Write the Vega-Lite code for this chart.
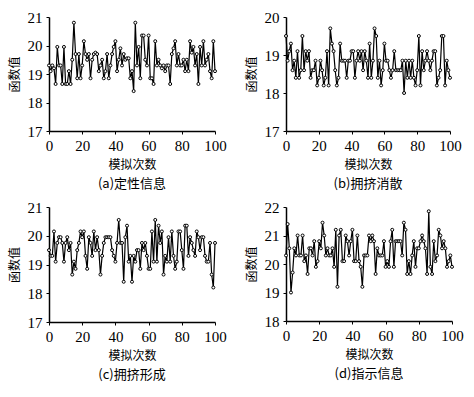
{
  "$schema": "https://vega.github.io/schema/vega-lite/v6.json",
  "padding": {"left": 8, "top": 10, "right": 5, "bottom": 5},
  "datasets": {
    "a": [
      {"x":0,"y":19.3},{"x":1,"y":19.1},{"x":2,"y":19.3},{"x":3,"y":19.2},{"x":4,"y":18.65},{"x":5,"y":19.95},{"x":6,"y":19.3},{"x":7,"y":19.3},{"x":8,"y":18.65},{"x":9,"y":19.95},
      {"x":10,"y":18.65},{"x":11,"y":18.65},{"x":12,"y":19.1},{"x":13,"y":18.65},{"x":14,"y":19.5},{"x":15,"y":20.8},{"x":16,"y":19.7},{"x":17,"y":18.85},{"x":18,"y":19.7},{"x":19,"y":18.85},
      {"x":20,"y":19.3},{"x":21,"y":20.15},{"x":22,"y":19.7},{"x":23,"y":19.5},{"x":24,"y":19.7},{"x":25,"y":18.85},{"x":26,"y":19.5},{"x":27,"y":19.7},{"x":28,"y":19.75},{"x":29,"y":19.7},
      {"x":30,"y":19.1},{"x":31,"y":19.3},{"x":32,"y":19.5},{"x":33,"y":18.85},{"x":34,"y":19.1},{"x":35,"y":19.7},{"x":36,"y":18.85},{"x":37,"y":19.3},{"x":38,"y":19.7},{"x":39,"y":19.95},
      {"x":40,"y":20.15},{"x":41,"y":19.1},{"x":42,"y":19.5},{"x":43,"y":19.9},{"x":44,"y":19.3},{"x":45,"y":19.7},{"x":46,"y":19.5},{"x":47,"y":19.55},{"x":48,"y":19.55},{"x":49,"y":18.85},
      {"x":50,"y":19.1},{"x":51,"y":18.4},{"x":52,"y":20.8},{"x":53,"y":19.3},{"x":54,"y":19.95},{"x":55,"y":18.85},{"x":56,"y":20.35},{"x":57,"y":20.35},{"x":58,"y":19.5},{"x":59,"y":19.3},
      {"x":60,"y":20.35},{"x":61,"y":18.85},{"x":62,"y":18.85},{"x":63,"y":18.65},{"x":64,"y":20.15},{"x":65,"y":19.3},{"x":66,"y":19.5},{"x":67,"y":19.3},{"x":68,"y":19.2},{"x":69,"y":19.3},
      {"x":70,"y":19.1},{"x":71,"y":19.3},{"x":72,"y":19.3},{"x":73,"y":18.65},{"x":74,"y":19.7},{"x":75,"y":19.9},{"x":76,"y":20.15},{"x":77,"y":19.3},{"x":78,"y":19.7},{"x":79,"y":19.3},
      {"x":80,"y":19.3},{"x":81,"y":19.5},{"x":82,"y":19.1},{"x":83,"y":19.5},{"x":84,"y":19.1},{"x":85,"y":20.15},{"x":86,"y":19.75},{"x":87,"y":19.95},{"x":88,"y":19.3},{"x":89,"y":19.7},
      {"x":90,"y":18.65},{"x":91,"y":19.95},{"x":92,"y":19.3},{"x":93,"y":20.15},{"x":94,"y":19.3},{"x":95,"y":19.5},{"x":96,"y":19.7},{"x":97,"y":19.1},{"x":98,"y":18.85},{"x":99,"y":20.15},
      {"x":100,"y":19.1}
    ],
    "b": [
      {"x":0,"y":19.5},{"x":1,"y":18.85},{"x":2,"y":19.1},{"x":3,"y":19.3},{"x":4,"y":18.6},{"x":5,"y":18.85},{"x":6,"y":18.4},{"x":7,"y":19.1},{"x":8,"y":18.4},{"x":9,"y":18.6},
      {"x":10,"y":19.5},{"x":11,"y":18.6},{"x":12,"y":19.1},{"x":13,"y":18.85},{"x":14,"y":19.1},{"x":15,"y":18.4},{"x":16,"y":18.6},{"x":17,"y":18.6},{"x":18,"y":18.85},{"x":19,"y":18.2},
      {"x":20,"y":18.4},{"x":21,"y":18.85},{"x":22,"y":18.6},{"x":23,"y":18.2},{"x":24,"y":18.4},{"x":25,"y":19.1},{"x":26,"y":18.2},{"x":27,"y":19.7},{"x":28,"y":19.3},{"x":29,"y":19.1},
      {"x":30,"y":18.6},{"x":31,"y":18.2},{"x":32,"y":18.4},{"x":33,"y":19.3},{"x":34,"y":18.85},{"x":35,"y":18.85},{"x":36,"y":18.85},{"x":37,"y":18.4},{"x":38,"y":18.85},{"x":39,"y":18.85},
      {"x":40,"y":19.1},{"x":41,"y":19.1},{"x":42,"y":18.4},{"x":43,"y":18.85},{"x":44,"y":19.1},{"x":45,"y":18.85},{"x":46,"y":19.1},{"x":47,"y":18.6},{"x":48,"y":19.1},{"x":49,"y":18.85},
      {"x":50,"y":18.4},{"x":51,"y":19.3},{"x":52,"y":18.4},{"x":53,"y":18.85},{"x":54,"y":19.7},{"x":55,"y":19.5},{"x":56,"y":18.4},{"x":57,"y":18.85},{"x":58,"y":18.2},{"x":59,"y":18.6},
      {"x":60,"y":19.3},{"x":61,"y":18.85},{"x":62,"y":18.85},{"x":63,"y":18.6},{"x":64,"y":18.4},{"x":65,"y":18.6},{"x":66,"y":19.1},{"x":67,"y":18.6},{"x":68,"y":18.6},{"x":69,"y":18.6},
      {"x":70,"y":18.6},{"x":71,"y":18.85},{"x":72,"y":18.0},{"x":73,"y":18.85},{"x":74,"y":18.4},{"x":75,"y":18.85},{"x":76,"y":18.4},{"x":77,"y":18.85},{"x":78,"y":18.4},{"x":79,"y":18.2},
      {"x":80,"y":18.6},{"x":81,"y":19.5},{"x":82,"y":18.2},{"x":83,"y":19.1},{"x":84,"y":18.6},{"x":85,"y":18.85},{"x":86,"y":19.1},{"x":87,"y":18.85},{"x":88,"y":18.6},{"x":89,"y":18.85},
      {"x":90,"y":19.1},{"x":91,"y":19.1},{"x":92,"y":18.2},{"x":93,"y":18.4},{"x":94,"y":18.6},{"x":95,"y":19.5},{"x":96,"y":19.5},{"x":97,"y":18.2},{"x":98,"y":18.85},{"x":99,"y":18.6},
      {"x":100,"y":18.4}
    ],
    "c": [
      {"x":0,"y":19.5},{"x":1,"y":19.3},{"x":2,"y":19.3},{"x":3,"y":20.15},{"x":4,"y":19.1},{"x":5,"y":19.75},{"x":6,"y":19.95},{"x":7,"y":19.95},{"x":8,"y":19.75},{"x":9,"y":19.1},
      {"x":10,"y":19.75},{"x":11,"y":19.95},{"x":12,"y":19.5},{"x":13,"y":19.75},{"x":14,"y":18.65},{"x":15,"y":19.1},{"x":16,"y":18.85},{"x":17,"y":19.5},{"x":18,"y":19.75},{"x":19,"y":20.15},
      {"x":20,"y":19.95},{"x":21,"y":20.15},{"x":22,"y":19.3},{"x":23,"y":18.85},{"x":24,"y":19.95},{"x":25,"y":19.75},{"x":26,"y":19.3},{"x":27,"y":20.15},{"x":28,"y":19.5},{"x":29,"y":19.95},
      {"x":30,"y":19.5},{"x":31,"y":18.65},{"x":32,"y":19.3},{"x":33,"y":19.75},{"x":34,"y":19.95},{"x":35,"y":19.95},{"x":36,"y":19.95},{"x":37,"y":19.95},{"x":38,"y":19.5},{"x":39,"y":19.3},
      {"x":40,"y":19.1},{"x":41,"y":19.75},{"x":42,"y":20.55},{"x":43,"y":19.75},{"x":44,"y":19.75},{"x":45,"y":18.4},{"x":46,"y":19.95},{"x":47,"y":20.35},{"x":48,"y":19.1},{"x":49,"y":19.3},
      {"x":50,"y":18.4},{"x":51,"y":19.3},{"x":52,"y":19.1},{"x":53,"y":19.5},{"x":54,"y":19.5},{"x":55,"y":18.85},{"x":56,"y":19.75},{"x":57,"y":19.5},{"x":58,"y":19.75},{"x":59,"y":19.3},
      {"x":60,"y":18.85},{"x":61,"y":18.85},{"x":62,"y":20.15},{"x":63,"y":19.1},{"x":64,"y":20.55},{"x":65,"y":19.1},{"x":66,"y":20.35},{"x":67,"y":19.75},{"x":68,"y":20.15},{"x":69,"y":18.65},
      {"x":70,"y":19.3},{"x":71,"y":19.1},{"x":72,"y":19.95},{"x":73,"y":19.1},{"x":74,"y":20.15},{"x":75,"y":19.3},{"x":76,"y":18.85},{"x":77,"y":19.1},{"x":78,"y":20.15},{"x":79,"y":20.15},
      {"x":80,"y":19.5},{"x":81,"y":18.85},{"x":82,"y":20.35},{"x":83,"y":20.35},{"x":84,"y":19.3},{"x":85,"y":19.95},{"x":86,"y":19.75},{"x":87,"y":19.5},{"x":88,"y":19.3},{"x":89,"y":20.15},
      {"x":90,"y":19.95},{"x":91,"y":19.5},{"x":92,"y":19.95},{"x":93,"y":19.95},{"x":94,"y":19.3},{"x":95,"y":19.1},{"x":96,"y":19.1},{"x":97,"y":19.75},{"x":98,"y":18.65},{"x":99,"y":18.2},
      {"x":100,"y":19.75}
    ],
    "d": [
      {"x":0,"y":20.3},{"x":1,"y":21.4},{"x":2,"y":20.55},{"x":3,"y":19.0},{"x":4,"y":19.7},{"x":5,"y":20.55},{"x":6,"y":20.3},{"x":7,"y":21.0},{"x":8,"y":20.3},{"x":9,"y":20.3},
      {"x":10,"y":21.0},{"x":11,"y":20.1},{"x":12,"y":20.3},{"x":13,"y":19.65},{"x":14,"y":20.55},{"x":15,"y":20.55},{"x":16,"y":20.3},{"x":17,"y":20.8},{"x":18,"y":19.9},{"x":19,"y":20.1},
      {"x":20,"y":20.8},{"x":21,"y":20.55},{"x":22,"y":21.45},{"x":23,"y":21.0},{"x":24,"y":20.3},{"x":25,"y":20.55},{"x":26,"y":20.3},{"x":27,"y":20.3},{"x":28,"y":20.55},{"x":29,"y":19.9},
      {"x":30,"y":21.2},{"x":31,"y":19.2},{"x":32,"y":21.0},{"x":33,"y":21.2},{"x":34,"y":20.1},{"x":35,"y":20.1},{"x":36,"y":21.0},{"x":37,"y":20.8},{"x":38,"y":20.3},{"x":39,"y":20.8},
      {"x":40,"y":21.2},{"x":41,"y":20.1},{"x":42,"y":20.1},{"x":43,"y":21.0},{"x":44,"y":20.1},{"x":45,"y":19.9},{"x":46,"y":19.2},{"x":47,"y":20.3},{"x":48,"y":20.3},{"x":49,"y":20.3},
      {"x":50,"y":21.0},{"x":51,"y":20.8},{"x":52,"y":21.0},{"x":53,"y":20.8},{"x":54,"y":19.65},{"x":55,"y":20.55},{"x":56,"y":20.3},{"x":57,"y":20.3},{"x":58,"y":20.3},{"x":59,"y":20.8},
      {"x":60,"y":19.9},{"x":61,"y":20.1},{"x":62,"y":19.9},{"x":63,"y":20.8},{"x":64,"y":21.2},{"x":65,"y":19.9},{"x":66,"y":20.8},{"x":67,"y":20.8},{"x":68,"y":20.8},{"x":69,"y":20.8},
      {"x":70,"y":20.3},{"x":71,"y":21.45},{"x":72,"y":21.2},{"x":73,"y":19.65},{"x":74,"y":20.1},{"x":75,"y":19.65},{"x":76,"y":20.3},{"x":77,"y":20.8},{"x":78,"y":19.9},{"x":79,"y":20.55},
      {"x":80,"y":20.55},{"x":81,"y":20.8},{"x":82,"y":21.0},{"x":83,"y":20.8},{"x":84,"y":20.55},{"x":85,"y":19.65},{"x":86,"y":21.85},{"x":87,"y":19.9},{"x":88,"y":19.65},{"x":89,"y":20.8},
      {"x":90,"y":20.1},{"x":91,"y":20.3},{"x":92,"y":21.2},{"x":93,"y":21.0},{"x":94,"y":20.55},{"x":95,"y":20.8},{"x":96,"y":20.55},{"x":97,"y":19.9},{"x":98,"y":20.1},{"x":99,"y":20.3},
      {"x":100,"y":19.9}
    ]
  },
  "vconcat": [
    {"hconcat": [
      {"data": {"name": "a"}, "width": 166, "height": 114,
       "title": {"text": "(a)定性信息", "orient": "bottom"},
       "mark": {"type": "line", "color": "black", "strokeWidth": 1.2, "point": {"filled": false, "fill": "white", "stroke": "black", "size": 9, "strokeWidth": 1}},
       "encoding": {
         "x": {"field": "x", "type": "quantitative", "scale": {"domain": [0, 100]}, "axis": {"title": "模拟次数", "values": [0,20,40,60,80,100]}},
         "y": {"field": "y", "type": "quantitative", "scale": {"domain": [17, 21]}, "axis": {"title": "函数值", "values": [17,18,19,20,21]}}
       }},
      {"data": {"name": "b"}, "width": 164, "height": 114,
       "title": {"text": "(b)拥挤消散", "orient": "bottom"},
       "mark": {"type": "line", "color": "black", "strokeWidth": 1.2, "point": {"filled": false, "fill": "white", "stroke": "black", "size": 9, "strokeWidth": 1}},
       "encoding": {
         "x": {"field": "x", "type": "quantitative", "scale": {"domain": [0, 100]}, "axis": {"title": "模拟次数", "values": [0,20,40,60,80,100]}},
         "y": {"field": "y", "type": "quantitative", "scale": {"domain": [17, 20]}, "axis": {"title": "函数值", "values": [17,18,19,20]}}
       }}
    ]},
    {"hconcat": [
      {"data": {"name": "c"}, "width": 166, "height": 115,
       "title": {"text": "(c)拥挤形成", "orient": "bottom"},
       "mark": {"type": "line", "color": "black", "strokeWidth": 1.2, "point": {"filled": false, "fill": "white", "stroke": "black", "size": 9, "strokeWidth": 1}},
       "encoding": {
         "x": {"field": "x", "type": "quantitative", "scale": {"domain": [0, 100]}, "axis": {"title": "模拟次数", "values": [0,20,40,60,80,100]}},
         "y": {"field": "y", "type": "quantitative", "scale": {"domain": [17, 21]}, "axis": {"title": "函数值", "values": [17,18,19,20,21]}}
       }},
      {"data": {"name": "d"}, "width": 166, "height": 114,
       "title": {"text": "(d)指示信息", "orient": "bottom"},
       "mark": {"type": "line", "color": "black", "strokeWidth": 1.2, "point": {"filled": false, "fill": "white", "stroke": "black", "size": 9, "strokeWidth": 1}},
       "encoding": {
         "x": {"field": "x", "type": "quantitative", "scale": {"domain": [0, 100]}, "axis": {"title": "模拟次数", "values": [0,20,40,60,80,100]}},
         "y": {"field": "y", "type": "quantitative", "scale": {"domain": [18, 22]}, "axis": {"title": "函数值", "values": [18,19,20,21,22]}}
       }}
    ]}
  ],
  "spacing": 9,
  "config": {
    "concat": {"spacing": 18},
    "view": {"stroke": null},
    "axis": {
      "grid": false, "domainColor": "black", "domainWidth": 1.5, "tickColor": "black", "tickSize": 3, "tickWidth": 1,
      "labelFont": "Liberation Serif", "labelFontSize": 15, "labelColor": "black", "labelFlush": false, "labelPadding": 4,
      "titleFont": "Noto Sans CJK SC", "titleFontSize": 12, "titleFontWeight": "normal", "titleColor": "black", "titlePadding": 6
    },
    "title": {"font": "Noto Sans CJK SC", "fontSize": 13, "fontWeight": "normal", "color": "black", "offset": 8}
  }
}
